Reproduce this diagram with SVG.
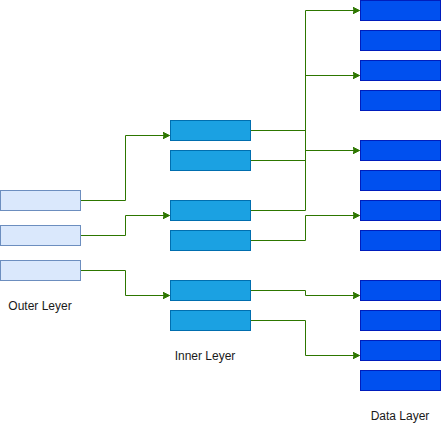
<svg xmlns="http://www.w3.org/2000/svg" width="441" height="431" viewBox="0 0 441 431">
<defs>
<style>
.outer{fill:#dae8fc;stroke:#6c8ebf;stroke-width:1}
.inner{fill:#1ba1e2;stroke:#006eaf;stroke-width:1}
.data{fill:#0050ef;stroke:#001dbc;stroke-width:1}
.edge{fill:none;stroke:#2d7600;stroke-width:1}
.arr{marker-end:url(#ah)}
.lbl{font-family:"Liberation Sans",Arial,sans-serif;font-size:12px;fill:#1a1a1a;text-anchor:middle}
</style>
<marker id="ah" markerWidth="8" markerHeight="8" refX="7" refY="4" orient="auto" markerUnits="userSpaceOnUse">
<path d="M0,0.5 L7,4 L0,7.5 L1.8,4 Z" fill="#2d7600" stroke="#2d7600" stroke-width="1"/>
</marker>
</defs>
<g id="connectors">
<path class="edge arr" d="M80.5,200.5 H125.5 V135.5 H169.5"/>
<path class="edge arr" d="M80.5,235.5 H125.5 V215.5 H169.5"/>
<path class="edge arr" d="M80.5,270.5 H125.5 V295.5 H169.5"/>
<path class="edge arr" d="M250.5,130.5 H305.5 V10.5 H359.5"/>
<path class="edge arr" d="M250.5,160.5 H305.5 V75.5 H359.5"/>
<path class="edge arr" d="M250.5,210.5 H305.5 V150.5 H359.5"/>
<path class="edge arr" d="M250.5,240.5 H305.5 V215.5 H359.5"/>
<path class="edge arr" d="M250.5,290.5 H305.5 V295.5 H359.5"/>
<path class="edge arr" d="M250.5,320.5 H305.5 V355.5 H359.5"/>
</g>
<g id="outer1"><rect class="outer" x="0.5" y="190.5" width="80" height="20"/></g>
<g id="outer2"><rect class="outer" x="0.5" y="225.5" width="80" height="20"/></g>
<g id="outer3"><rect class="outer" x="0.5" y="260.5" width="80" height="20"/></g>
<g id="inner1"><rect class="inner" x="170.5" y="120.5" width="80" height="20"/></g>
<g id="inner2"><rect class="inner" x="170.5" y="150.5" width="80" height="20"/></g>
<g id="inner3"><rect class="inner" x="170.5" y="200.5" width="80" height="20"/></g>
<g id="inner4"><rect class="inner" x="170.5" y="230.5" width="80" height="20"/></g>
<g id="inner5"><rect class="inner" x="170.5" y="280.5" width="80" height="20"/></g>
<g id="inner6"><rect class="inner" x="170.5" y="310.5" width="80" height="20"/></g>
<g id="data1"><rect class="data" x="360.5" y="0.5" width="80" height="20"/></g>
<g id="data2"><rect class="data" x="360.5" y="30.5" width="80" height="20"/></g>
<g id="data3"><rect class="data" x="360.5" y="60.5" width="80" height="20"/></g>
<g id="data4"><rect class="data" x="360.5" y="90.5" width="80" height="20"/></g>
<g id="data5"><rect class="data" x="360.5" y="140.5" width="80" height="20"/></g>
<g id="data6"><rect class="data" x="360.5" y="170.5" width="80" height="20"/></g>
<g id="data7"><rect class="data" x="360.5" y="200.5" width="80" height="20"/></g>
<g id="data8"><rect class="data" x="360.5" y="230.5" width="80" height="20"/></g>
<g id="data9"><rect class="data" x="360.5" y="280.5" width="80" height="20"/></g>
<g id="data10"><rect class="data" x="360.5" y="310.5" width="80" height="20"/></g>
<g id="data11"><rect class="data" x="360.5" y="340.5" width="80" height="20"/></g>
<g id="data12"><rect class="data" x="360.5" y="370.5" width="80" height="20"/></g>
<g id="label-outer"><text class="lbl" x="40" y="310">Outer Leyer</text></g>
<g id="label-inner"><text class="lbl" x="205" y="360">Inner Leyer</text></g>
<g id="label-data"><text class="lbl" x="400" y="420">Data Layer</text></g>
</svg>
